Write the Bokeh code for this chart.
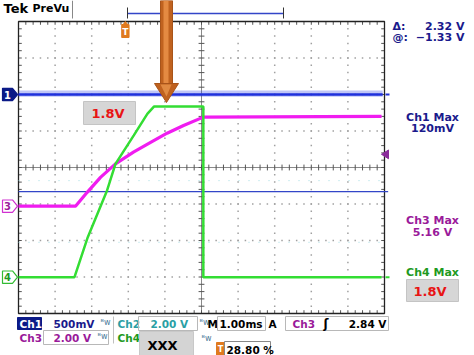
from bokeh.plotting import figure
from bokeh.models import Range1d
from bokeh.embed import file_html
from bokeh.resources import INLINE
from bokeh.core.properties import value

# ---------------- data (in graticule divisions: x 0..10, y 0..8) ----------------
ch1_level = 6.0                  # Ch1 noisy trace level
cursor_level = 3.34              # horizontal cursor line
ch2_ghost_levels = [3.64, 1.95]  # faint Ch2 residue
ch3_t = [0, 1.557, 1.877, 2.24, 2.65, 3.14, 3.61, 4.06, 4.51, 5.05, 9.92]
ch3_v = [2.94, 2.94, 3.32, 3.73, 4.10, 4.42, 4.69, 4.94, 5.15, 5.38, 5.40]
ch4_t = [0, 1.53, 1.893, 2.42, 2.65, 3.15, 3.52, 3.70, 5.05, 5.05, 9.92]
ch4_v = [0.995, 0.995, 2.09, 3.37, 4.10, 4.88, 5.47, 5.67, 5.67, 0.995, 0.995]
ch3_zero = 2.94
ch3_scale = 2.0
trig_level_v = 2.84
trig_pos = 2.92
status_row1 = ["500mV", "2.00 V", "1.00ms", "2.84 V"]
status_row2 = ["2.00 V", "XXX", "28.80 %"]
cursor_texts = ["2.32 V", "\u22121.33 V"]
meas_texts = [("Ch1 Max", "120mV"), ("Ch3 Max", "5.16 V"), ("Ch4 Max", "1.8V")]

# ---------------- geometry helpers ----------------
X0, Y0, XS, YS = 18.0, 313.0, 36.6, 36.5
def X(px): return (px - X0) / XS
def Y(py): return (Y0 - py) / YS

W, H = 474, 355
p = figure(width=W, height=H, x_range=Range1d(X(0), X(W)), y_range=Range1d(Y(H), Y(0)),
           output_backend="svg", toolbar_location=None, min_border=0,
           x_axis_location=None, y_axis_location=None)
p.grid.visible = False
p.outline_line_color = None
p.background_fill_color = "white"
p.border_fill_color = "white"

FONT = value("DejaVu Sans")
NAVY = "#1a1a8c"; PURP = "#9a1a9a"; GRN = "#1f9a1f"; TEAL = "#2a9fa5"; ORANGE = "#e07a1f"

def txt(px, py, s, color, size="11px", align="left", bold=True):
    p.text(x=[X(px)], y=[Y(py)], text=[s], text_font=FONT, text_font_size=size,
           text_font_style="bold" if bold else "normal", text_color=color,
           text_align=align, text_baseline="middle")

def box(x1, y1, x2, y2, fill=None, line="#b8b8b8", lw=1):
    p.quad(left=[X(x1)], right=[X(x2)], top=[Y(y1)], bottom=[Y(y2)],
           fill_color=fill, fill_alpha=1 if fill else 0, line_color=line, line_width=lw)

# ---------------- graticule ----------------
dx, dy = [], []
for k in range(1, 10):
    if k == 5: continue
    for j in range(1, 40):
        dx.append(k); dy.append(j * 0.2)
for k in range(1, 8):
    if k == 4: continue
    for j in range(1, 50):
        dx.append(j * 0.2); dy.append(k)
p.scatter(dx, dy, marker="square", size=1.5, color="#a0a0a0", line_width=0)

p.line([0, 10], [4, 4], line_color="#8a8a8a", line_width=1)
p.line([5, 5], [0, 8], line_color="#8a8a8a", line_width=1)
tx0, tx1, ty0, ty1 = [], [], [], []
for j in range(1, 50):
    tx0.append(j * 0.2); tx1.append(j * 0.2); ty0.append(4 - 0.08); ty1.append(4 + 0.08)
for j in range(1, 40):
    tx0.append(5 - 0.08); tx1.append(5 + 0.08); ty0.append(j * 0.2); ty1.append(j * 0.2)
for j in range(1, 50):
    tx0 += [j * 0.2, j * 0.2]; tx1 += [j * 0.2, j * 0.2]
    ty0 += [0, 8]; ty1 += [0.09, 8 - 0.09]
for j in range(1, 40):
    tx0 += [0, 10]; tx1 += [0.09, 10 - 0.09]
    ty0 += [j * 0.2, j * 0.2]; ty1 += [j * 0.2, j * 0.2]
p.segment(tx0, ty0, tx1, ty1, line_color="#555555", line_width=1)
p.quad(left=[0], right=[10], bottom=[0], top=[8], fill_alpha=0, line_color="#222222", line_width=1.3)

# ---------------- traces ----------------
for lv in ch2_ghost_levels:
    p.line([0, 10], [lv, lv], line_color="#8fd4dc", line_width=1, line_dash="1 9", line_alpha=0.8)
p.line([0, 10.1], [cursor_level, cursor_level], line_color="#3346c8", line_width=1.4)
p.varea(x=[0, 9.95], y1=[ch1_level - 0.06, ch1_level - 0.06], y2=[ch1_level + 0.11, ch1_level + 0.11],
        fill_color="#2a3fe0", fill_alpha=0.3)
p.line([0, 9.95], [ch1_level, ch1_level], line_color="#1f30dc", line_width=2.6)
p.line(ch3_t, ch3_v, line_color="#f01cf0", line_width=3.2)
p.line(ch4_t, ch4_v, line_color="#33dd33", line_width=2.5)

# ---------------- left channel markers ----------------
def marker(level, label, fill, line, tcol):
    xs = [X(2), X(12), X(17), X(12), X(2)]
    ys = [level + 0.17, level + 0.17, level, level - 0.17, level - 0.17]
    p.patch(xs, ys, fill_color=fill, line_color=line, line_width=1.2)
    p.text(x=[X(7)], y=[level], text=[label], text_font=FONT, text_font_size="10px",
           text_font_style="bold", text_color=tcol, text_align="center", text_baseline="middle")
marker(ch1_level, "1", "#0b1a87", "#0b1a87", "white")
marker(ch3_v[0], "3", "white", "#d030d0", PURP)
marker(ch4_v[0], "4", "white", "#33bb33", GRN)

trig_y = ch3_zero + trig_level_v / ch3_scale
p.patch([X(381), X(388), X(388)], [trig_y, trig_y + 0.12, trig_y - 0.12], fill_color="#8a2a9a", line_color="#8a2a9a")
p.segment([X(385)], [ch1_level], [X(389)], [ch1_level], line_color="#2233d8", line_width=2)
p.segment([X(385)], [ch4_v[-1]], [X(389)], [ch4_v[-1]], line_color="#33dd33", line_width=2)

# ---------------- top bar ----------------
txt(3, 8, "Tek", "black", size="13px")
txt(32, 8, "PreVu", "black", size="11px")
p.segment([X(72)], [Y(0)], [X(72)], [Y(18)], line_color="#888888", line_width=1)
p.segment([X(127)], [Y(13)], [X(283)], [Y(13)], line_color="#3346c8", line_width=1.5)
p.segment([X(127), X(283)], [Y(7), Y(7)], [X(127), X(283)], [Y(18), Y(18)], line_color="#333333", line_width=1)
p.quad(left=[trig_pos - 0.1], right=[trig_pos + 0.1], top=[Y(24)], bottom=[Y(37)],
       fill_color=ORANGE, line_color=ORANGE)
p.patch([trig_pos - 0.06, trig_pos + 0.06, trig_pos], [Y(24), Y(24), Y(21)], fill_color=ORANGE, line_color=ORANGE)
p.text(x=[trig_pos], y=[Y(31)], text=["T"], text_font=FONT, text_font_size="9px", text_font_style="bold",
       text_color="white", text_align="center", text_baseline="middle")

# ---------------- right panel ----------------
txt(392, 26, "\u0394:", NAVY, size="11px")
txt(392, 37, "@:", NAVY, size="11px")
txt(464, 26, cursor_texts[0], NAVY, size="11px", align="right")
txt(464, 37, cursor_texts[1], NAVY, size="11px", align="right")
txt(432, 117, meas_texts[0][0], NAVY, align="center")
txt(432, 128, meas_texts[0][1], NAVY, align="center")
txt(432, 220, meas_texts[1][0], PURP, align="center")
txt(432, 232, meas_texts[1][1], PURP, align="center")
txt(432, 272, meas_texts[2][0], GRN, align="center")
box(406, 279, 458, 301, fill="#d6d6d6", line="#c4c4c4")
txt(413, 291, meas_texts[2][1], "#e81414", size="13px")

box(83, 101, 135, 124, fill="#d6d6d6", line="#c4c4c4")
txt(91, 113, "1.8V", "#e81414", size="13px")

# ---------------- status bar ----------------
SF = "10.5px"
box(17, 317, 41, 329, fill="#0b1a87", line="#0b1a87")
txt(19, 323, "Ch1", "white", size=SF)
txt(53, 323, status_row1[0], NAVY, size=SF)
txt(100, 322, "\u1d2ew", "#4a7a9a", size="8px", bold=False)
p.segment([X(113)], [Y(316)], [X(113)], [Y(343)], line_color="#c0c0c0")
txt(117, 323, "Ch2", TEAL, size=SF)
box(138, 316, 197, 330)
txt(150, 323, status_row1[1], TEAL, size=SF)
txt(199, 322, "\u1d2ew", "#4a7a9a", size="8px", bold=False)
txt(207, 323, "M", "black", size=SF)
box(217, 316, 265, 330)
txt(219, 323, status_row1[2], "black", size=SF)
txt(268, 323, "A", "black", size=SF)
box(285, 316, 388, 330)
txt(292, 323, "Ch3", PURP, size=SF)
txt(323, 323, "\u0283", "black", size="12px")
txt(386, 323, status_row1[3], "black", size=SF, align="right")

txt(19, 337, "Ch3", PURP, size=SF)
box(43, 330, 108, 344)
txt(53, 337, status_row2[0], PURP, size=SF)
txt(97, 336, "\u1d2ew", "#4a7a9a", size="8px", bold=False)
txt(117, 337, "Ch4", GRN, size=SF)
box(139, 331, 193, 356, fill="#d4d4d4", line="#c8c8c8")
txt(147, 345, status_row2[1], "black", size="13px")
txt(201, 338, "\u1d2ew", "#4a7a9a", size="8px", bold=False)
p.quad(left=[X(216)], right=[X(224)], top=[Y(342)], bottom=[Y(355)], fill_color=ORANGE, line_color=ORANGE)
txt(220, 349, "T", "white", size="8px", align="center")
box(224, 341, 270, 356, line="#888888")
txt(226, 349, status_row2[2], "black", size=SF)

# ---------------- big annotation arrow ----------------
p.quad(left=[X(160)], right=[X(172)], top=[Y(0)], bottom=[Y(84)], fill_color="#c0621f", line_color="#a8541a")
p.quad(left=[X(163)], right=[X(168)], top=[Y(0)], bottom=[Y(84)], fill_color="#e48a42", line_width=0, line_alpha=0)
p.patch([X(154), X(178), X(166)], [Y(83), Y(83), Y(102)], fill_color="#c0621f", line_color="#a8541a")
p.patch([X(160), X(171), X(166)], [Y(84), Y(84), Y(96)], fill_color="#e08a42", line_alpha=0)

open("out.html", "w").write(file_html(p, INLINE))
